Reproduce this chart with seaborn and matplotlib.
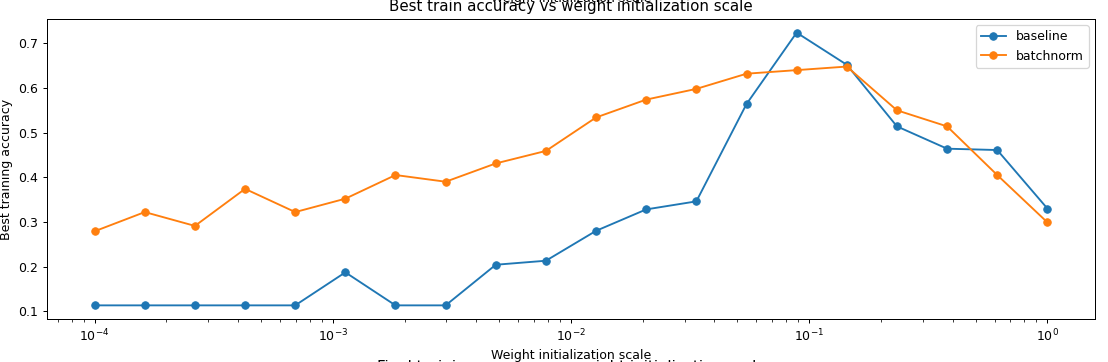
import numpy as np
import pandas as pd
import seaborn as sns
import matplotlib
matplotlib.use('Agg')
import matplotlib.pyplot as plt

# Dados
escalas = np.logspace(-4, 0, 20)
baseline = [0.113, 0.113, 0.113, 0.113, 0.113, 0.187, 0.113, 0.113, 0.204, 0.213,
            0.280, 0.328, 0.346, 0.564, 0.724, 0.652, 0.514, 0.464, 0.461, 0.330]
batchnorm = [0.279, 0.322, 0.291, 0.374, 0.322, 0.352, 0.405, 0.390, 0.431, 0.459,
             0.534, 0.574, 0.598, 0.632, 0.640, 0.648, 0.550, 0.514, 0.405, 0.299]

dados = pd.DataFrame({'escala': escalas, 'baseline': baseline, 'batchnorm': batchnorm})

DPI = 90
fig = plt.figure(figsize=(1108 / DPI, 362 / DPI), dpi=DPI)
ax = fig.add_axes([47 / 1108, 1 - 319 / 362, (1095 - 47) / 1108, 300 / 362])

sns.lineplot(x='escala', y='baseline', data=dados, ax=ax, marker='o', color='#1f77b4',
             label='baseline', markersize=6, linewidth=1.5)
sns.lineplot(x='escala', y='batchnorm', data=dados, ax=ax, marker='o', color='#ff7f0e',
             label='batchnorm', markersize=6, linewidth=1.5)
for linha in ax.get_lines():
    linha.set_markeredgecolor(linha.get_color())

ax.set_xscale('log')
ax.set_title('Best train accuracy vs weight initialization scale', fontsize=12)
ax.set_xlabel('Weight initialization scale', fontsize=10)
ax.set_ylabel('Best training accuracy', fontsize=10)
ax.tick_params(labelsize=10)
ax.legend(loc='upper right', fontsize=10)

# Pedaços de texto dos subplots vizinhos (cortados na borda, como no original)
fig.text(571 / 1108, 1 - 2 / 362, 'Weight initialization scale', ha='center', va='baseline', fontsize=10)
fig.text(571 / 1108, -10 / 362, 'Final training accuracy vs weight initialization scale',
         ha='center', va='baseline', fontsize=12)

fig.savefig('out.png', dpi=DPI)
